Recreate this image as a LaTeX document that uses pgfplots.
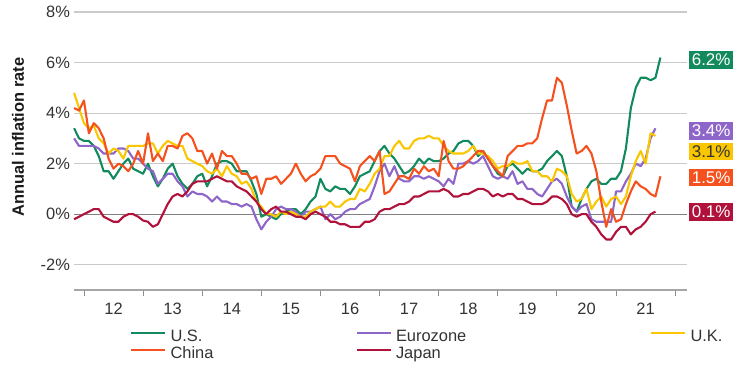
\documentclass[border=0pt]{standalone}
\usepackage{fontspec}
\setmainfont{Liberation Sans}
\usepackage{pgfplots}
\pgfplotsset{compat=1.18}
\usepackage{pgfplotstable}

\definecolor{cus}{HTML}{138A5E}
\definecolor{cez}{HTML}{8E66C9}
\definecolor{cuk}{HTML}{F9C600}
\definecolor{ccn}{HTML}{F4511E}
\definecolor{cjp}{HTML}{B0123B}
\definecolor{gridc}{HTML}{CACACA}
\definecolor{txt}{HTML}{333333}

% m = months since Jan 2012 (Nov 2011 = -2)
\pgfplotstableread{
m us ez uk cn jp
-2 3.4 3.0 4.8 4.2 -0.2
-1 3.0 2.7 4.2 4.1 -0.1
0 2.9 2.7 3.6 4.5 0.0
1 2.9 2.7 3.4 3.2 0.1
2 2.7 2.7 3.5 3.6 0.2
3 2.3 2.6 3.0 3.4 0.2
4 1.7 2.4 2.8 3.0 -0.1
5 1.7 2.4 2.4 2.2 -0.2
6 1.4 2.4 2.6 1.8 -0.3
7 1.7 2.6 2.5 2.0 -0.3
8 2.0 2.6 2.2 1.9 -0.1
9 2.2 2.5 2.7 1.7 0.0
10 1.8 2.2 2.7 2.0 0.0
11 1.7 2.2 2.7 2.5 -0.1
12 1.6 2.0 2.7 2.0 -0.25
13 2.0 1.8 2.8 3.2 -0.3
14 1.5 1.7 2.8 2.1 -0.5
15 1.1 1.2 2.4 2.4 -0.4
16 1.4 1.4 2.7 2.1 0.0
17 1.8 1.6 2.9 2.7 0.4
18 2.0 1.6 2.8 2.7 0.7
19 1.5 1.3 2.7 2.6 0.8
20 1.2 1.1 2.7 3.1 0.7
21 1.0 0.7 2.2 3.2 0.9
22 1.2 0.9 2.1 3.0 1.2
23 1.5 0.8 2.0 2.5 1.3
24 1.6 0.8 1.9 2.5 1.3
25 1.1 0.7 1.7 2.0 1.3
26 1.5 0.5 1.6 2.4 1.4
27 2.0 0.7 1.8 1.8 1.5
28 2.1 0.5 1.5 2.5 1.4
29 2.1 0.5 1.9 2.3 1.3
30 2.0 0.4 1.6 2.3 1.3
31 1.7 0.4 1.5 2.0 1.1
32 1.7 0.3 1.2 1.6 1.0
33 1.7 0.4 1.3 1.6 0.9
34 1.3 0.3 1.0 1.4 0.7
35 0.8 -0.2 0.5 1.5 0.5
36 -0.1 -0.6 0.3 0.8 0.2
37 0.0 -0.3 0.0 1.4 0.0
38 -0.1 -0.1 0.0 1.4 0.2
39 -0.2 0.2 -0.1 1.5 0.3
40 0.0 0.3 0.1 1.2 0.1
41 0.1 0.2 0.0 1.4 0.1
42 0.2 0.2 0.1 1.6 0.0
43 0.2 0.1 0.0 2.0 -0.1
44 0.0 -0.1 -0.1 1.6 -0.1
45 0.2 0.1 -0.1 1.3 -0.2
46 0.5 0.1 0.1 1.5 0.0
47 0.7 0.2 0.2 1.6 0.1
48 1.4 0.3 0.3 1.8 0.0
49 1.0 -0.2 0.3 2.3 -0.1
50 0.9 0.0 0.5 2.3 -0.3
51 1.1 -0.2 0.3 2.3 -0.3
52 1.0 -0.1 0.3 2.0 -0.4
53 1.0 0.1 0.5 1.9 -0.4
54 0.8 0.2 0.6 1.8 -0.5
55 1.1 0.2 0.6 1.3 -0.5
56 1.5 0.4 1.0 1.9 -0.5
57 1.6 0.5 0.9 2.1 -0.3
58 1.7 0.6 1.2 2.3 -0.3
59 2.1 1.1 1.6 2.1 -0.2
60 2.5 1.7 1.8 2.5 0.1
61 2.7 2.0 2.3 0.8 0.2
62 2.4 1.5 2.3 0.9 0.2
63 2.2 1.9 2.7 1.2 0.3
64 1.9 1.4 2.9 1.5 0.4
65 1.6 1.3 2.6 1.5 0.4
66 1.7 1.3 2.6 1.4 0.5
67 1.9 1.5 2.9 1.8 0.7
68 2.2 1.5 3.0 1.6 0.7
69 2.0 1.4 3.0 1.9 0.8
70 2.2 1.5 3.1 1.7 0.9
71 2.1 1.4 3.0 1.8 0.9
72 2.1 1.3 3.0 1.5 0.9
73 2.2 1.1 2.7 2.9 1.0
74 2.4 1.4 2.5 2.1 0.9
75 2.5 1.2 2.4 1.8 0.7
76 2.8 2.0 2.4 1.8 0.7
77 2.9 2.0 2.4 1.9 0.8
78 2.9 2.1 2.5 2.1 0.8
79 2.7 2.0 2.7 2.3 0.9
80 2.3 2.1 2.4 2.5 1.0
81 2.5 2.3 2.4 2.5 1.0
82 2.2 1.9 2.3 2.2 0.9
83 1.9 1.5 2.1 1.9 0.7
84 1.6 1.4 1.8 1.7 0.8
85 1.5 1.5 1.9 1.5 0.7
86 1.9 1.4 1.9 2.3 0.8
87 2.0 1.7 2.1 2.5 0.8
88 1.8 1.2 2.0 2.7 0.6
89 1.6 1.3 2.0 2.7 0.6
90 1.8 1.0 2.1 2.8 0.5
91 1.7 1.0 1.7 2.8 0.4
92 1.7 0.8 1.7 3.0 0.4
93 1.8 0.7 1.5 3.8 0.4
94 2.1 1.0 1.5 4.5 0.5
95 2.3 1.3 1.3 4.5 0.7
96 2.5 1.4 1.8 5.4 0.7
97 2.3 1.2 1.7 5.2 0.6
98 1.5 0.7 1.5 4.3 0.4
99 0.3 0.3 0.8 3.3 0.0
100 0.1 0.1 0.5 2.4 -0.1
101 0.6 0.3 0.6 2.5 0.0
102 1.0 0.4 1.0 2.7 0.0
103 1.3 -0.2 0.2 2.4 -0.3
104 1.4 -0.3 0.5 1.7 -0.5
105 1.2 -0.3 0.7 0.5 -0.8
106 1.2 -0.3 0.3 -0.5 -1.0
107 1.4 -0.3 0.6 0.2 -1.0
108 1.4 0.9 0.7 -0.3 -0.7
109 1.7 0.9 0.4 -0.2 -0.5
110 2.6 1.3 0.7 0.4 -0.5
111 4.2 1.6 1.5 0.9 -0.8
112 5.0 2.0 2.1 1.3 -0.6
113 5.4 1.9 2.5 1.1 -0.5
114 5.4 2.2 2.0 1.0 -0.3
115 5.3 3.0 3.2 0.8 0.0
116 5.4 3.4 3.1 0.7 0.1
117 6.2 nan nan 1.5 nan
}\datatable

\begin{document}
\begin{tikzpicture}[x=1bp,y=1bp]
\path[use as bounding box] (0,0) rectangle (740,368);
\begin{axis}[
  at={(74.1bp,78bp)}, anchor=south west,
  scale only axis, width=612.9bp, height=278bp,
  xmin=-2, xmax=122.4, ymin=-3, ymax=8,
  clip=false,
  axis x line*=bottom, axis y line*=left,
  y axis line style={draw=none},
  x axis line style={draw=black!35, line width=1.1bp},
  tick align=outside, major tick length=6bp,
  xtick={0,12,24,36,48,60,72,84,96,108,120},
  x tick label as interval,
  xticklabels={12,13,14,15,16,17,18,19,20,21},
  xtick style={draw=black!45, line width=0.9bp},
  ytick={-2,0,2,4,6,8},
  yticklabels={-2\%,0\%,2\%,4\%,6\%,8\%},
  ytick style={draw=none},
  ymajorgrids, grid style={gridc, line width=1.1bp},
  extra y ticks={0}, extra y tick labels={},
  extra y tick style={grid style={black!50, line width=1.1bp}, tick style={draw=none}},
  tick label style={font=\fontsize{16.5}{19}\selectfont, text=txt},
  xticklabel style={inner sep=0pt, yshift=-7bp},
  yticklabel style={inner sep=0pt, xshift=2bp},
  ylabel={Annual inflation rate},
  ylabel style={at={(axis description cs:-0.0915,0.55)}, anchor=center,
    font=\bfseries\fontsize{16.5}{19}\selectfont, text=black!90},
  legend columns=3,
  legend cell align=left,
  legend style={at={(axis description cs:0.0912,-0.1403)}, anchor=north west,
    draw=none, fill=none, inner sep=0pt, outer sep=0pt,
    font=\fontsize{16.5}{19}\selectfont, text=txt,
    column sep=0pt, row sep=0pt,
    nodes={inner sep=0pt, text height=12bp, text depth=5bp},
    /tikz/every odd column/.append style={column sep=4bp},
    /tikz/every even column/.append style={column sep=0pt}},
  legend image code/.code={\draw[#1, line width=2.5bp] (0bp,4.5bp) -- (34bp,4.5bp);},
  every axis plot/.append style={line width=2.1bp, line join=round},
]
\addplot[cus, no markers] table[x=m, y=us] {\datatable};
\addlegendentry[text width=185bp]{U.S.}
\addplot[cez, no markers] table[x=m, y=ez] {\datatable};
\addlegendentry[text width=254bp]{Eurozone}
\addplot[cuk, no markers] table[x=m, y=uk] {\datatable};
\addlegendentry{U.K.}
\addplot[ccn, no markers] table[x=m, y=cn] {\datatable};
\addlegendentry{China}
\addplot[cjp, no markers] table[x=m, y=jp] {\datatable};
\addlegendentry{Japan}

\tikzset{lbl/.style={minimum width=44bp, minimum height=17.5bp, inner sep=0pt,
  font=\fontsize{17}{17}\selectfont, text=white}}
\node[lbl, fill=cus] at (axis cs:127.3,6.11) {6.2\%};
\node[lbl, fill=cez] at (axis cs:127.3,3.30) {3.4\%};
\node[lbl, fill=cuk, text=txt] at (axis cs:127.3,2.49) {3.1\%};
\node[lbl, fill=ccn] at (axis cs:127.3,1.45) {1.5\%};
\node[lbl, fill=cjp] at (axis cs:127.3,0.09) {0.1\%};
\end{axis}
\end{tikzpicture}
\end{document}
